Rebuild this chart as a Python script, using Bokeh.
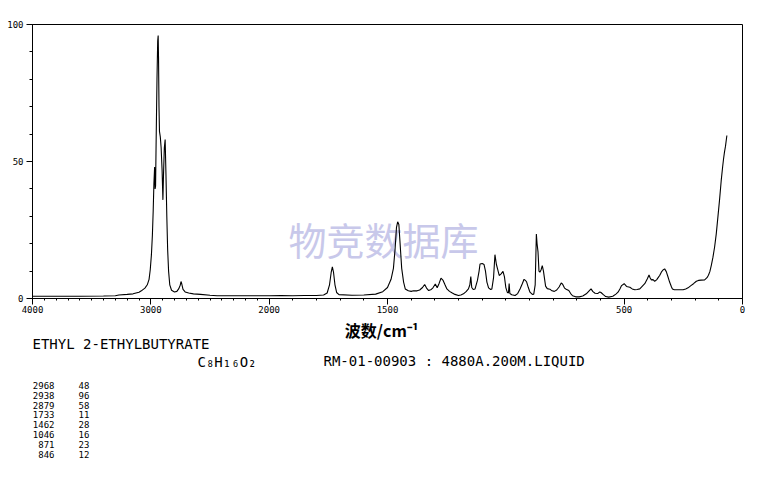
import numpy as np
from bokeh.plotting import figure
from bokeh.layouts import column
from bokeh.models import Range1d, FixedTicker, Label
from bokeh.embed import file_html
from bokeh.resources import INLINE

# ---------------- data ----------------
wavenumber = [
    4000, 3800, 3600, 3400, 3300, 3270, 3200, 3150, 3100, 3080, 3050, 3030, 3015, 3005,
    2995, 2987, 2980, 2974, 2968, 2964, 2960, 2955, 2948, 2942, 2938, 2935, 2931, 2927,
    2920, 2913, 2905, 2898, 2893, 2886, 2879, 2872, 2865, 2858, 2850, 2840, 2825, 2800,
    2780, 2765, 2752, 2745, 2738, 2728, 2710, 2680, 2640, 2580, 2500, 2440, 2300, 2150,
    2000, 1950, 1900, 1850, 1800, 1770, 1755, 1745, 1738, 1733, 1728, 1722, 1715, 1705,
    1650, 1600, 1550, 1520, 1500, 1485, 1475, 1468, 1462, 1457, 1452, 1446, 1440, 1432,
    1425, 1412, 1400, 1390, 1375, 1364, 1352, 1343, 1335, 1326, 1315, 1308, 1298, 1290,
    1282, 1274, 1265, 1258, 1249, 1238, 1228, 1215, 1200, 1190, 1179, 1168, 1158, 1152,
    1148, 1144, 1138, 1130, 1120, 1113, 1109, 1100, 1092, 1086, 1080, 1073, 1064, 1059,
    1052, 1046, 1040, 1035, 1028, 1020, 1012, 1006, 1000, 994, 989, 986, 983, 975,
    961, 950, 940, 930, 923, 916, 912, 905, 898, 888, 882, 876, 871, 868,
    864, 860, 856, 851, 846, 841, 837, 832, 825, 814, 805, 795, 785, 775,
    766, 760, 752, 745, 734, 726, 718, 705, 690, 675, 660, 648, 640, 632,
    623, 612, 603, 598, 588, 578, 565, 548, 535, 526, 518, 511, 500, 490,
    476, 466, 455, 445, 434, 423, 413, 402, 395, 390, 385, 378, 371, 363,
    355, 350, 343, 336, 329, 322, 316, 308, 300, 296, 288, 280, 265, 251,
    240, 230, 218, 207, 195, 186, 175, 160, 150, 144, 138, 132, 125, 118,
    111, 104, 97, 90, 84, 80, 76, 72, 66,
]
intensity = [
    0.8, 0.8, 0.8, 0.9, 1.0, 1.3, 1.5, 1.7, 2.3, 2.8, 3.8, 5.0, 7.0, 10.5,
    16, 23, 32, 42, 48, 40, 41, 58, 80, 94, 96, 88, 70, 61,
    59, 55, 47, 36, 45, 55, 58, 45, 30, 18, 10, 5, 3, 2.4,
    2.6, 3.5, 4.8, 6.2, 5.2, 3.3, 2.4, 2.0, 1.7, 1.5, 1.2, 1.0, 1.0, 1.0,
    1.0, 1.1, 1.0, 1.1, 1.1, 1.3, 2.0, 5, 9.5, 11.5, 9.5, 5, 2.2, 1.4,
    1.2, 1.3, 1.6, 2.5, 4, 7, 11, 18, 26, 28, 27, 19, 11, 6,
    3.5, 2.8, 2.6, 2.8, 2.8, 3.1, 4.0, 5.1, 3.8, 2.9, 3.3, 3.9, 5.3, 3.9,
    5.5, 7.4, 6.6, 5.2, 3.5, 2.6, 2.1, 1.5, 1.1, 1.3, 1.7, 2.5, 3.5, 5,
    8, 4, 3.3, 3.5, 6.6, 10, 12.6, 12.8, 12.4, 10, 6, 3.9, 3.3, 3.5,
    7.5, 16, 12.5, 10.8, 8.4, 9.0, 9.9, 8, 4, 2.3, 2.0, 5.5, 1.8, 1.4,
    1.1, 1.8, 3.5, 5.5, 7, 6.5, 6, 4, 2.3, 1.5, 1.6, 5, 23.5, 20,
    17, 10, 9.6, 10.5, 12, 10, 7.5, 4.5, 3.6, 3.4, 2.8, 2.6, 3.1, 4.2,
    5.7, 5.2, 3.8, 3.4, 2.9, 1.8, 1.0, 0.6, 0.6, 0.9, 1.7, 2.8, 3.5, 2.5,
    1.9, 1.8, 2.4, 2.2, 1.4, 0.7, 0.5, 0.8, 1.6, 2.3, 3.5, 4.7, 5.4, 4.4,
    4.1, 3.5, 3.2, 3.3, 3.5, 4.5, 5.4, 7.2, 8.6, 7.5, 6.8, 6.9, 6.3, 6.8,
    7.8, 8.4, 9.6, 10.4, 10.8, 9.8, 8.2, 6, 4.2, 3.5, 3.2, 3.2, 3.2, 3.2,
    3.5, 3.9, 4.7, 5.4, 6.3, 6.6, 6.7, 6.8, 7.6, 8.5, 9.8, 12, 15, 18.7,
    23.5, 29.7, 36, 43, 48, 51, 53.5, 55.5, 59.5,
]

x_tick_values = [4000, 3000, 2000, 1500, 500, 0]
y_tick_values = [0, 50, 100]
peak_wavenumbers = ["2968", "2938", "2879", "1733", "1462", "1046", "871", "846"]
peak_intensities = ["48", "96", "58", "11", "28", "16", "23", "12"]

compound = "ETHYL 2-ETHYLBUTYRATE"
formula = "C\u2088H\u2081\u2086O\u2082"
sample_info = "RM-01-00903 : 4880A.200M.LIQUID"
x_title = "波数/cm\u207b\u00b9"
watermark = "物竞数据库"

# ---------------- axis: split scale (4000-2000 compressed 2x) ----------------
def to_axis(w):
    w = np.asarray(w, dtype=float)
    return np.where(w > 2000, 2000 + (w - 2000) / 2.0, w)

U_MAX = float(to_axis(4000))

W = 757
TOP_H = 316
BOT_H = 154
FL, FR, FT, FB = 32, 742, 24, 298  # frame edges in page pixels

def px_x(xp):
    return U_MAX - (xp - FL) / (FR - FL) * U_MAX
def px_y(yp):
    return (FB - yp) / (FB - FT) * 100.0

p = figure(width=W, height=TOP_H, output_backend="svg", toolbar_location=None,
           x_range=Range1d(U_MAX, 0), y_range=Range1d(0, 100),
           min_border_left=FL, min_border_right=W - FR, min_border_top=FT,
           min_border_bottom=TOP_H - FB,
           background_fill_color="white", border_fill_color="white")
p.frame_width = FR - FL
p.frame_height = FB - FT
p.grid.visible = False
p.outline_line_color = "black"
p.outline_line_width = 1
p.outline_line_alpha = 1

MONO = "DejaVu Sans Mono"

xt = [float(v) for v in to_axis(x_tick_values)]
minor_x = [float(v) for v in to_axis(list(range(0, 4001, 100)))]
p.xaxis.ticker = FixedTicker(ticks=xt, minor_ticks=minor_x)
p.xaxis.major_label_overrides = {t: str(w) for t, w in zip(xt, x_tick_values)}
p.xaxis.major_tick_out = 6
p.xaxis.major_tick_in = 0
p.xaxis.minor_tick_out = 2
p.xaxis.minor_tick_in = 0
p.xaxis.major_label_standoff = 1

p.yaxis.ticker = FixedTicker(ticks=y_tick_values, minor_ticks=list(range(0, 101, 10)))
p.yaxis.major_tick_out = 6
p.yaxis.major_tick_in = 0
p.yaxis.minor_tick_out = 3
p.yaxis.minor_tick_in = 0
p.yaxis.major_label_standoff = 3

for ax in (p.xaxis, p.yaxis):
    ax.axis_line_color = "black"
    ax.major_tick_line_color = "black"
    ax.minor_tick_line_color = "black"
    ax.major_label_text_font = MONO
    ax.major_label_text_font_size = "9px"
    ax.major_label_text_color = "black"

# watermark (under the curve)
p.add_layout(Label(x=px_x(383), y=px_y(238), text=watermark, text_align="center",
                   text_baseline="middle", text_font="Noto Sans CJK SC",
                   text_font_size="38px", text_color="#c8c8ea", level="underlay"))

p.line(to_axis(wavenumber), intensity, line_color="black", line_width=1.1)

# ---------------- text panel below the chart (frame aligned with chart frame) ----------------
q = figure(width=W, height=BOT_H, output_backend="svg", toolbar_location=None,
           x_range=Range1d(FL, FR), y_range=Range1d(TOP_H + BOT_H, TOP_H),
           min_border_left=FL, min_border_right=W - FR, min_border_top=0, min_border_bottom=0,
           x_axis_location=None, y_axis_location=None,
           background_fill_color="white", border_fill_color="white")
q.frame_width = FR - FL
q.frame_height = BOT_H
q.grid.visible = False
q.outline_line_color = None

def add_text(xp, yp, txt, size, font=MONO, align="left", style="normal"):
    q.add_layout(Label(x=xp, y=yp, text=txt, text_align=align, text_baseline="middle",
                       text_font=font, text_font_size=size, text_font_style=style,
                       text_color="black"))

add_text(381, 329, x_title, "16px", font="Noto Sans CJK SC", align="center", style="bold")
add_text(32, 343, compound, "14px")
add_text(197, 361, formula, "14px")
add_text(323, 360, sample_info, "14px")

for i, (w, v) in enumerate(zip(peak_wavenumbers, peak_intensities)):
    yp = 385 + i * 9.8
    add_text(54, yp, w, "9px", align="right")
    add_text(78, yp, v, "9px")

layout = column(p, q, spacing=0)
open("out.html", "w").write(file_html(layout, INLINE))
